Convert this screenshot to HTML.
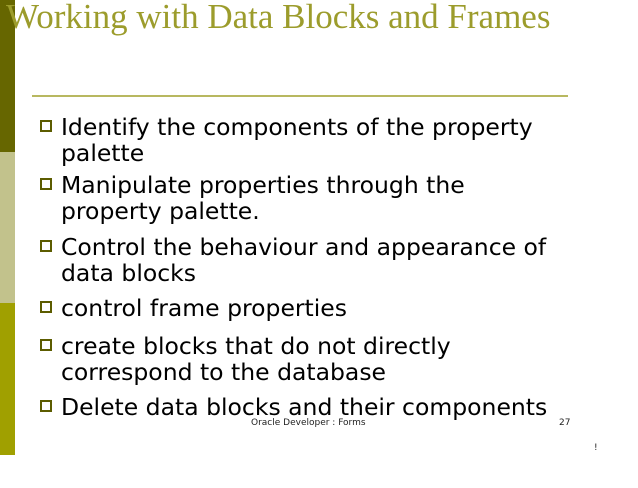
<!DOCTYPE html>
<html><head><style>
body{margin:0;width:638px;height:488px;background:#fff;position:relative;overflow:hidden}
.bar{position:absolute;left:0;width:15px}
.t{position:absolute;left:6px;top:-3px;font-family:"Liberation Serif",serif;font-size:35px;color:#9c9c2c;white-space:nowrap}
.l{position:absolute;font-family:"DejaVu Sans",sans-serif;font-size:23.5px;color:#000;white-space:nowrap;left:61px;line-height:26px}
.b{position:absolute;left:40px;width:8px;height:8px;border:2px solid #5c5c00}
.f{position:absolute;font-family:"DejaVu Sans",sans-serif;font-size:9px;color:#222}
</style></head><body>
<div class="bar" style="top:0;height:152px;background:#666600"></div>
<div class="bar" style="top:152px;height:151px;background:#c2c28c"></div>
<div class="bar" style="top:303px;height:152px;background:#a0a000"></div>
<div class="t">Working with Data Blocks and Frames</div>
<div style="position:absolute;left:32px;top:95px;width:536px;height:2px;background:#b8b860"></div>

<div class="b" style="top:120px"></div>
<div class="l" style="top:114px">Identify the components of the property</div>
<div class="l" style="top:140px">palette</div>
<div class="b" style="top:178px"></div>
<div class="l" style="top:172px">Manipulate properties through the</div>
<div class="l" style="top:198px">property palette.</div>
<div class="b" style="top:240px"></div>
<div class="l" style="top:234px">Control the behaviour and appearance of</div>
<div class="l" style="top:260px">data blocks</div>
<div class="b" style="top:301px"></div>
<div class="l" style="top:295px">control frame properties</div>
<div class="b" style="top:339px"></div>
<div class="l" style="top:333px">create blocks that do not directly</div>
<div class="l" style="top:359px">correspond to the database</div>
<div class="b" style="top:400px"></div>
<div class="l" style="top:394px">Delete data blocks and their components</div>
<div class="f" style="left:251px;top:418px">Oracle Developer : Forms</div>
<div class="f" style="left:559px;top:418px">27</div>
<div class="f" style="left:594px;top:443px">!</div>
</body></html>
